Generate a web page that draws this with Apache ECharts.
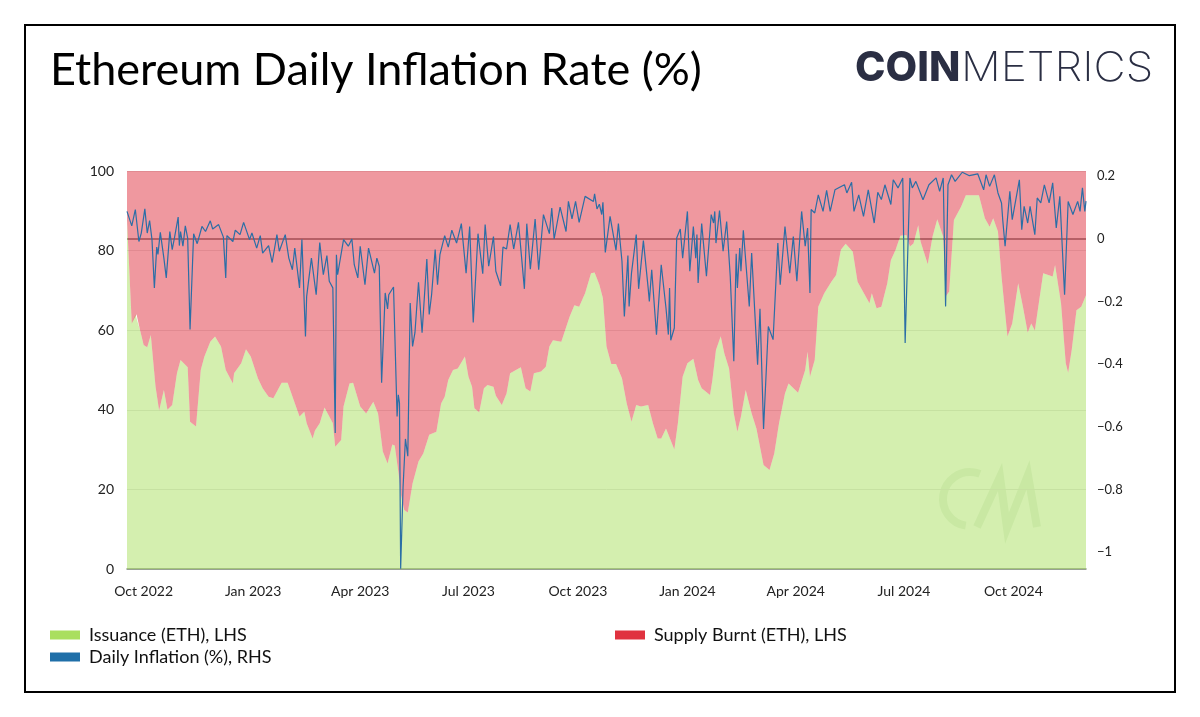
<!DOCTYPE html>
<html>
<head>
<meta charset="utf-8">
<title>Ethereum Daily Inflation Rate (%)</title>
<script src="https://cdn.jsdelivr.net/npm/echarts@6/dist/echarts.min.js"></script>
<style>
  html, body { margin: 0; padding: 0; background: #fff; }
  #main { width: 1200px; height: 717px; }
</style>
</head>
<body>
<div id="main"></div>
<script>
// day numbers are counted from the left edge of the plot
const startDate = Date.UTC(2022, 8, 17);
const endDay = 806;

const issuanceDays = [
  0, 4, 7, 8, 11, 14, 17, 20, 24, 27, 31, 34,
  38, 42, 45, 51, 53, 58, 62, 65, 70, 74, 79, 83,
  89, 90, 96, 100, 104, 110, 114, 119, 123, 130, 135, 140,
  145, 149, 151, 156, 158, 162, 166, 173, 175, 180, 182, 187,
  190, 196, 201, 207, 211, 215, 219, 223, 225, 229, 230, 233,
  236, 240, 245, 249, 254, 260, 264, 267, 270, 274, 278, 284,
  287, 290, 292, 296, 300, 303, 308, 310, 315, 319, 322, 331,
  335, 339, 342, 348, 352, 355, 358, 365, 372, 376, 380, 385,
  390, 393, 397, 400, 403, 407, 411, 416, 420, 424, 428, 432,
  438, 442, 446, 449, 453, 460, 463, 467, 471, 476, 480, 483,
  490, 492, 495, 499, 502, 506, 510, 513, 516, 520, 525, 529,
  535, 540, 544, 548, 553, 556, 564, 570, 572, 574, 578, 581,
  586, 592, 596, 600, 604, 610, 614, 624, 626, 630, 634, 639,
  642, 646, 650, 655, 658, 661, 665, 667, 673, 677, 681, 686,
  688, 691, 695, 701, 705, 716, 721, 725, 728, 732, 735, 740,
  744, 749, 753, 757, 760, 763, 770, 778, 780, 785, 789, 791,
  794, 798, 802, 806
];
const issuanceValues = [
  87.7, 61.7, 64, 64, 60, 56.3, 55.7, 58.8, 45.8, 39.8, 45, 40,
  41.2, 49.2, 52.5, 50.7, 37, 35.8, 50, 53.3, 57.1, 58.4, 55.9, 50,
  46.6, 49.2, 51.7, 55.2, 53.4, 47.9, 45.4, 43.3, 42.9, 46.8, 46.8, 42.5,
  38.3, 39.5, 36.6, 32.8, 34.8, 36.6, 40.6, 36.6, 30.7, 32.4, 40.8, 46.6,
  46.8, 40.8, 39.1, 42, 39.1, 29.5, 26.5, 31.3, 31, 22.4, 19, 14.8,
  14.2, 21.5, 27, 29, 33.7, 34.5, 41.6, 43.3, 47.5, 50, 50.4, 53.4,
  48.3, 45.8, 40.4, 39.4, 45.4, 46.2, 45.8, 43.5, 41.2, 44.1, 49.2, 50.7,
  45.4, 44.6, 49.2, 49.6, 50.8, 55.9, 57.5, 57.1, 63.4, 66.3, 65.9, 69.3,
  74.3, 74.5, 71.4, 68, 55.9, 51.5, 51.5, 47.9, 41.6, 37, 41.2, 40.8,
  41.2, 36.6, 32.8, 32.8, 35.3, 30, 36.6, 48.3, 51.7, 52.8, 47.5, 45.4,
  43.7, 47.5, 55, 58.5, 54.2, 50.4, 39.1, 34.5, 38.3, 45, 39.1, 35.3,
  26.1, 24.9, 29, 36.6, 44.1, 46.6, 44.3, 50, 54.6, 48.3, 52.5, 65.9,
  69.3, 72.2, 73.9, 80.2, 81.7, 79.7, 72.2, 66.8, 69.3, 65.5, 65.9, 71.8,
  77.6, 80.2, 83.7, 83.9, 81, 81.8, 86.4, 82.2, 76.6, 83.5, 87.9, 83.5,
  68.4, 69.7, 87.7, 91, 93.9, 93.9, 88.1, 86, 88.1, 84.8, 73.5, 58.4,
  61.7, 71.8, 65.9, 59.4, 61.7, 59.9, 74.3, 73.5, 76.4, 66.8, 51.7, 49.3,
  55, 65, 65.9, 68.8
];
const burntValues = [
  12.3, 38.3, 36, 36, 40, 43.7, 44.3, 41.2, 54.2, 60.2, 55, 60,
  58.8, 50.8, 47.5, 49.3, 63, 64.2, 50, 46.7, 42.9, 41.6, 44.1, 50,
  53.4, 50.8, 48.3, 44.8, 46.6, 52.1, 54.6, 56.7, 57.1, 53.2, 53.2, 57.5,
  61.7, 60.5, 63.4, 67.2, 65.2, 63.4, 59.4, 63.4, 69.3, 67.6, 59.2, 53.4,
  53.2, 59.2, 60.9, 58, 60.9, 70.5, 73.5, 68.7, 69, 77.6, 81, 85.2,
  85.8, 78.5, 73, 71, 66.3, 65.5, 58.4, 56.7, 52.5, 50, 49.6, 46.6,
  51.7, 54.2, 59.6, 60.6, 54.6, 53.8, 54.2, 56.5, 58.8, 55.9, 50.8, 49.3,
  54.6, 55.4, 50.8, 50.4, 49.2, 44.1, 42.5, 42.9, 36.6, 33.7, 34.1, 30.7,
  25.7, 25.5, 28.6, 32, 44.1, 48.5, 48.5, 52.1, 58.4, 63, 58.8, 59.2,
  58.8, 63.4, 67.2, 67.2, 64.7, 70, 63.4, 51.7, 48.3, 47.2, 52.5, 54.6,
  56.3, 52.5, 45, 41.5, 45.8, 49.6, 60.9, 65.5, 61.7, 55, 60.9, 64.7,
  73.9, 75.1, 71, 63.4, 55.9, 53.4, 55.7, 50, 45.4, 51.7, 47.5, 34.1,
  30.7, 27.8, 26.1, 19.8, 18.3, 20.3, 27.8, 33.2, 30.7, 34.5, 34.1, 28.2,
  22.4, 19.8, 16.3, 16.1, 19, 18.2, 13.6, 17.8, 23.4, 16.5, 12.1, 16.5,
  31.6, 30.3, 12.3, 9, 6.1, 6.1, 11.9, 14, 11.9, 15.2, 26.5, 41.6,
  38.3, 28.2, 34.1, 40.6, 38.3, 40.1, 25.7, 26.5, 23.6, 33.2, 48.3, 50.7,
  45, 35, 34.1, 31.2
];

const inflationDays = [
  0, 4, 7, 10, 12, 15, 17, 19, 21, 23, 25, 26,
  28, 31, 33, 36, 38, 40, 43, 44, 45, 47, 49, 51,
  53, 56, 59, 63, 66, 70, 72, 77, 81, 83, 84, 89,
  91, 95, 98, 103, 105, 109, 112, 114, 119, 122, 126, 128,
  133, 136, 139, 141, 145, 147, 150, 151, 155, 159, 162, 165,
  168, 170, 173, 175, 176, 177, 182, 186, 189, 191, 194, 196,
  200, 203, 208, 210, 212, 214, 217, 219, 220, 224, 227, 228,
  229, 230, 232, 234, 236, 238, 240, 242, 245, 248, 252, 254,
  256, 259, 261, 263, 267, 270, 273, 277, 281, 285, 288, 291,
  295, 299, 301, 304, 308, 310, 314, 316, 319, 322, 325, 329,
  334, 336, 339, 343, 346, 350, 355, 357, 359, 364, 369, 371,
  374, 377, 380, 385, 392, 393, 395, 397, 399, 400, 402, 406,
  411, 413, 416, 418, 421, 422, 424, 428, 430, 434, 438, 439,
  441, 445, 449, 453, 455, 456, 457, 460, 462, 465, 467, 471,
  473, 476, 478, 479, 480, 483, 487, 491, 493, 494, 495, 498,
  501, 504, 507, 510, 512, 513, 515, 516, 518, 523, 525, 530,
  532, 535, 539, 543, 547, 549, 553, 557, 560, 563, 567, 570,
  572, 574, 575, 578, 581, 585, 588, 591, 595, 603, 605, 609,
  611, 615, 619, 623, 628, 631, 634, 637, 642, 644, 648, 652,
  654, 658, 660, 663, 669, 674, 680, 683, 686, 688, 690, 693,
  696, 702, 708, 715, 720, 722, 725, 729, 732, 735, 736, 738,
  742, 744, 750, 752, 754, 757, 759, 763, 765, 768, 771, 775,
  778, 781, 784, 788, 791, 795, 799, 801, 803, 805, 806
];
const inflationValues = [
  0.087, 0.041, 0.093, -0.009, 0.018, 0.095, 0.018, 0.058, -0.003, -0.157, -0.027, -0.05,
  0.02, -0.062, -0.125, 0.023, -0.035, 0.005, 0.069, -0.022, 0.023, -0.024, 0.041, 0.002,
  -0.29, 0.016, -0.016, 0.039, 0.023, 0.057, 0.031, 0.045, 0.005, -0.125, 0.01, -0.009,
  0.027, 0.013, 0.052, -0.003, 0.018, -0.03, 0.01, -0.046, -0.022, -0.076, 0.013, -0.04,
  0.013, -0.062, -0.099, -0.03, -0.157, -0.003, -0.312, -0.184, -0.062, -0.179, -0.012, -0.115,
  -0.054, -0.136, -0.157, -0.62, -0.051, -0.115, -0.003, -0.024, -0.001, -0.083, -0.125, -0.024,
  -0.147, -0.03, -0.11, -0.062, -0.088, -0.46, -0.173, -0.224, -0.179, -0.154, -0.567, -0.498,
  -0.524, -1.053, -0.795, -0.639, -0.694, -0.205, -0.344, -0.3, -0.139, -0.3, -0.065, -0.242,
  -0.179, -0.035, -0.147, -0.051, 0.01, -0.027, 0.027, -0.014, 0.048, -0.11, 0.039, -0.267,
  0.016, -0.112, 0.045, -0.088, 0.007, -0.104, -0.15, -0.027, -0.033, 0.045, -0.033, 0.052,
  -0.16, 0.048, -0.097, 0.063, -0.099, 0.077, 0.016, 0.098, -0.001, 0.101, 0.023, 0.119,
  0.063, 0.119, 0.052, 0.135, 0.119, 0.143, 0.095, 0.11, 0.077, 0.116, -0.044, 0.071,
  -0.037, 0.048, -0.072, -0.248, -0.054, -0.216, -0.11, 0.013, -0.16, -0.006, -0.157, -0.2,
  -0.099, -0.306, -0.083, -0.221, -0.306, -0.157, -0.324, -0.285, 0.002, 0.031, -0.062, 0.087,
  -0.104, 0.039, -0.062, 0.013, -0.141, 0.048, -0.12, 0.077, 0.05, 0.087, -0.014, 0.09,
  -0.04, 0.055, -0.12, -0.391, -0.048, -0.157, -0.03, -0.104, 0.027, -0.216, -0.046, -0.402,
  -0.224, -0.607, -0.28, -0.322, -0.014, -0.147, 0.039, -0.11, 0.007, -0.136, 0.087, -0.024,
  0.034, -0.173, 0.093, 0.082, 0.14, 0.087, 0.154, 0.087, 0.156, 0.172, 0.146, 0.18,
  0.087, 0.14, 0.071, 0.156, 0.05, 0.148, 0.125, 0.172, 0.109, 0.188, 0.162, 0.194,
  -0.333, 0.194, 0.162, 0.183, 0.124, 0.172, 0.194, 0.151, 0.194, -0.216, 0.172, 0.204,
  0.183, 0.212, 0.201, 0.207, 0.156, 0.204, 0.167, 0.204, 0.146, 0.114, 0.061, -0.024,
  0.151, 0.061, 0.188, 0.029, 0.103, 0.05, 0.103, 0.013, 0.13, 0.114, 0.172, 0.114,
  0.178, 0.034, 0.135, -0.179, 0.119, 0.077, 0.119, 0.087, 0.162, 0.087, 0.12
];

const labelMonths = [0, 3, 6, 9];
const monthNames = ["Jan", "Feb", "Mar", "Apr", "May", "Jun", "Jul", "Aug", "Sep", "Oct", "Nov", "Dec"];
const rightTicks = [-1, -0.8, -0.6, -0.4, -0.2, 0, 0.2];

const DAY = 86400000;
const FONT = "Lato";

function toPairs(days, values) {
  return days.map((d, i) => [startDate + d * DAY, values[i]]);
}

// only the first of a quarter gets a label
function quarterLabel(v) {
  const d = new Date(v);
  if (d.getUTCDate() !== 1 || !labelMonths.includes(d.getUTCMonth())) return "";
  return monthNames[d.getUTCMonth()] + " " + d.getUTCFullYear();
}

function legendAt(name, left, top) {
  return {
    data: [name], left: left, top: top,
    icon: "rect", itemWidth: 30, itemHeight: 9, itemGap: 9,
    textStyle: { fontFamily: FONT, fontSize: 18, color: "#111", padding: [0, 0, 0, 4] }
  };
}

var myChart = echarts.init(document.querySelector("#main"), null, { renderer: "canvas" });

myChart.setOption({
  animation: false,
  useUTC: true,
  backgroundColor: "#fff",
  textStyle: { fontFamily: FONT },
  title: {
    text: "Ethereum Daily Inflation Rate (%)",
    left: 45,
    top: 43,
    textStyle: { fontFamily: FONT, fontSize: 45, fontWeight: "normal", color: "#000" }
  },
  grid: { left: 127, right: 114, top: 171, bottom: 148 },
  legend: [
    legendAt("Issuance (ETH), LHS", 45, 621),
    legendAt("Supply Burnt (ETH), LHS", 610, 621),
    legendAt("Daily Inflation (%), RHS", 45, 643)
  ],
  xAxis: {
    type: "time",
    min: startDate,
    max: startDate + endDay * DAY,
    minInterval: 28 * DAY,
    maxInterval: 31 * DAY,
    axisLine: { show: true, lineStyle: { color: "#7f8a78", width: 1.5 } },
    axisTick: { show: false },
    splitLine: { show: false },
    axisLabel: {
      margin: 15,
      fontFamily: FONT,
      fontSize: 14,
      color: "#222",
      hideOverlap: false,
      formatter: quarterLabel
    }
  },
  yAxis: [
    {
      type: "value",
      min: 0,
      max: 100,
      interval: 20,
      axisLine: { show: false },
      axisTick: { show: false },
      splitLine: { lineStyle: { color: "#e2e2e2", width: 1 } },
      axisLabel: { margin: 13, fontFamily: FONT, fontSize: 14, color: "#222" }
    },
    {
      type: "value",
      position: "right",
      min: -1.054,
      max: 0.216,
      axisLine: { show: false },
      axisTick: { show: false },
      splitLine: { show: false },
      axisLabel: {
        customValues: rightTicks,
        margin: 11,
        padding: [2, 0, 0, 0],
        fontFamily: FONT,
        fontSize: 13,
        color: "#222",
        formatter: (v) => String(v).replace("-", "\u2212")
      }
    }
  ],
  series: [
    {
      name: "Issuance (ETH), LHS",
      type: "line",
      stack: "supply",
      showSymbol: false,
      data: toPairs(issuanceDays, issuanceValues),
      itemStyle: { color: "#a9df5f" },
      lineStyle: { width: 0 },
      areaStyle: { color: "#a9df5f", opacity: 0.5 }
    },
    {
      name: "Supply Burnt (ETH), LHS",
      type: "line",
      stack: "supply",
      showSymbol: false,
      data: toPairs(issuanceDays, burntValues),
      itemStyle: { color: "#e0323f" },
      lineStyle: { width: 0 },
      areaStyle: { color: "#e0323f", opacity: 0.5 }
    },
    {
      name: "Daily Inflation (%), RHS",
      type: "line",
      yAxisIndex: 1,
      z: 3,
      showSymbol: false,
      data: toPairs(inflationDays, inflationValues),
      itemStyle: { color: "#1f6fa8" },
      lineStyle: { color: "#2b6ea6", width: 1.2 },
      // the zero line of the right axis sits under the areas
      markLine: {
        z: 1,
        silent: true,
        symbol: "none",
        label: { show: false },
        lineStyle: { color: "#666", type: "solid", width: 1.5 },
        data: [{ yAxis: 0 }]
      }
    }
  ],
  graphic: [
    // outer frame
    {
      type: "rect", z: -1, silent: true,
      shape: { x: 25, y: 25, width: 1150, height: 667 },
      style: { fill: "none", stroke: "#000", lineWidth: 2 }
    },
    // logo
    {
      type: "text", x: 855, y: 48,
      style: { text: "COIN", fontFamily: "Inter", fontWeight: 800, fontSize: 41, fill: "#2a2e43" }
    },
    {
      type: "text", x: 961, y: 48, scaleX: 1.08,
      style: { text: "METRICS", fontFamily: "Inter", fontWeight: 200, fontSize: 41, fill: "#2a2e43" }
    },
    // watermark
    {
      type: "arc", silent: true,
      shape: { cx: 970, cy: 499, r: 27, startAngle: Math.PI * 0.55, endAngle: Math.PI * 1.62, clockwise: true },
      style: { fill: "none", stroke: "rgba(130,180,120,0.18)", lineWidth: 8 }
    },
    {
      type: "polyline", silent: true,
      shape: { points: [[977, 527], [1000, 477], [1007, 528], [1028, 475], [1037, 527]] },
      style: { fill: "none", stroke: "rgba(130,180,120,0.18)", lineWidth: 8 }
    }
  ]
});

window.onresize = function() {
  myChart.resize();
};
</script>
</body>
</html>
